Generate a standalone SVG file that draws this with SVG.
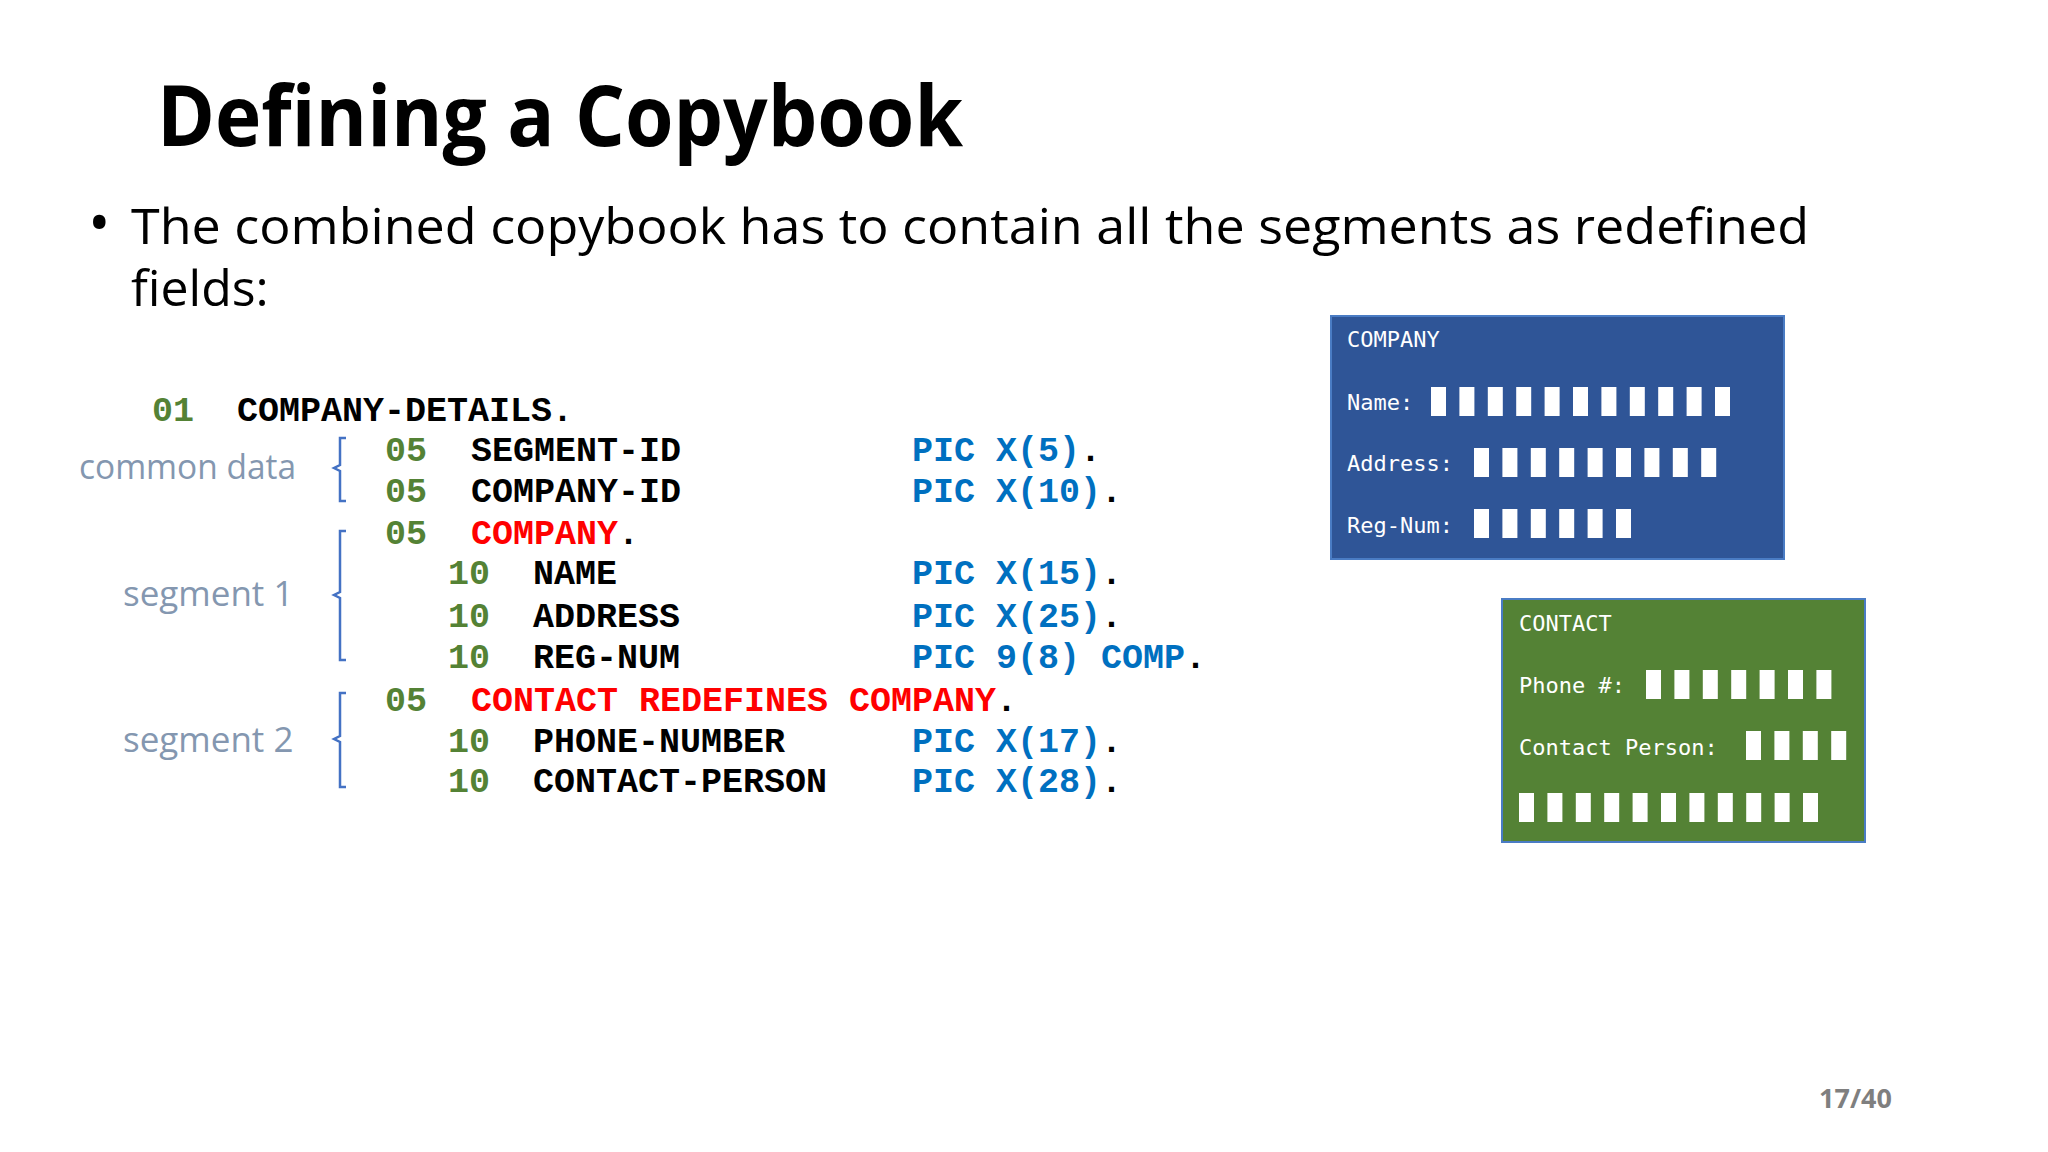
<svg xmlns="http://www.w3.org/2000/svg" width="2048" height="1152" viewBox="0 0 2048 1152">
<style>
.c{font-family:"Liberation Mono","DejaVu Sans Mono",monospace;font-size:35px;font-weight:bold}
.g{fill:#548235}.k{fill:#000}.b{fill:#0070c0}.r{fill:#ff0000}
.lab{font-family:"Open Sans","Liberation Sans",sans-serif;font-size:35px;fill:#8497b0}
.br{fill:none;stroke:#4472c4;stroke-width:2.5}
.bx{font-family:"DejaVu Sans Mono","Liberation Mono",monospace;font-size:22px;fill:#fff}
.blk{fill:#fff}
</style>
<rect width="2048" height="1152" fill="#fff"/>
<text x="157" y="146" font-family="Open Sans, Liberation Sans, sans-serif" font-weight="bold" font-size="84" textLength="806" lengthAdjust="spacingAndGlyphs">Defining a Copybook</text>
<g font-family="Open Sans, Liberation Sans, sans-serif" font-size="50" fill="#000">
<text x="88" y="244" font-size="60">•</text>
<text x="131" y="244" textLength="1678" lengthAdjust="spacingAndGlyphs">The combined copybook has to contain all the segments as redefined</text>
<text x="131" y="306">fields:</text>
</g>
<g id="code" class="c">
<text x="152" y="421" class="g">01</text><text x="237" y="421" class="k">COMPANY-DETAILS.</text>
<text x="385" y="461" class="g">05</text><text x="471" y="461" class="k">SEGMENT-ID</text><text x="912" y="461" class="b">PIC X(5)<tspan class="k">.</tspan></text>
<text x="385" y="502" class="g">05</text><text x="471" y="502" class="k">COMPANY-ID</text><text x="912" y="502" class="b">PIC X(10)<tspan class="k">.</tspan></text>
<text x="385" y="544" class="g">05</text><text x="471" y="544" class="r">COMPANY<tspan class="k">.</tspan></text>
<text x="448" y="584" class="g">10</text><text x="533" y="584" class="k">NAME</text><text x="912" y="584" class="b">PIC X(15)<tspan class="k">.</tspan></text>
<text x="448" y="627" class="g">10</text><text x="533" y="627" class="k">ADDRESS</text><text x="912" y="627" class="b">PIC X(25)<tspan class="k">.</tspan></text>
<text x="448" y="668" class="g">10</text><text x="533" y="668" class="k">REG-NUM</text><text x="912" y="668" class="b">PIC 9(8) COMP<tspan class="k">.</tspan></text>
<text x="385" y="711" class="g">05</text><text x="471" y="711" class="r">CONTACT REDEFINES COMPANY<tspan class="k">.</tspan></text>
<text x="448" y="752" class="g">10</text><text x="533" y="752" class="k">PHONE-NUMBER</text><text x="912" y="752" class="b">PIC X(17)<tspan class="k">.</tspan></text>
<text x="448" y="792" class="g">10</text><text x="533" y="792" class="k">CONTACT-PERSON</text><text x="912" y="792" class="b">PIC X(28)<tspan class="k">.</tspan></text>
</g>
<g id="labels">
<text x="79" y="479" class="lab" textLength="217" lengthAdjust="spacingAndGlyphs">common data</text>
<path class="br" d="M346,438 H340 V465 L334,468 L340,471 V501 H346"/>
<text x="123" y="606" class="lab">segment 1</text>
<path class="br" d="M346,531 H340 V592 L334,595 L340,598 V660 H346"/>
<text x="123" y="752" class="lab">segment 2</text>
<path class="br" d="M346,693 H340 V736 L334,739 L340,742 V787 H346"/>
</g>
<g id="company">
<rect x="1331" y="316" width="453" height="243" fill="#2f5597" stroke="#4a7cc4" stroke-width="2"/>
<text x="1347" y="347" class="bx">COMPANY</text>
<text x="1347" y="410" class="bx">Name:</text>
<text x="1347" y="471" class="bx">Address:</text>
<text x="1347" y="533" class="bx">Reg-Num:</text>
<g class="blk">
<rect x="1431" y="387" width="15" height="29"/><rect x="1459.4" y="387" width="15" height="29"/><rect x="1487.8" y="387" width="15" height="29"/><rect x="1516.2" y="387" width="15" height="29"/><rect x="1544.6" y="387" width="15" height="29"/><rect x="1573" y="387" width="15" height="29"/><rect x="1601.4" y="387" width="15" height="29"/><rect x="1629.8" y="387" width="15" height="29"/><rect x="1658.2" y="387" width="15" height="29"/><rect x="1686.6" y="387" width="15" height="29"/><rect x="1715" y="387" width="15" height="29"/>
<rect x="1474" y="448" width="15" height="29"/><rect x="1502.4" y="448" width="15" height="29"/><rect x="1530.8" y="448" width="15" height="29"/><rect x="1559.2" y="448" width="15" height="29"/><rect x="1587.6" y="448" width="15" height="29"/><rect x="1616" y="448" width="15" height="29"/><rect x="1644.4" y="448" width="15" height="29"/><rect x="1672.8" y="448" width="15" height="29"/><rect x="1701.2" y="448" width="15" height="29"/>
<rect x="1474" y="509" width="15" height="29"/><rect x="1502.4" y="509" width="15" height="29"/><rect x="1530.8" y="509" width="15" height="29"/><rect x="1559.2" y="509" width="15" height="29"/><rect x="1587.6" y="509" width="15" height="29"/><rect x="1616" y="509" width="15" height="29"/>
</g>
</g>
<g id="contact">
<rect x="1502" y="599" width="363" height="243" fill="#548235" stroke="#4a7cc4" stroke-width="2"/>
<text x="1519" y="631" class="bx">CONTACT</text>
<text x="1519" y="693" class="bx">Phone #:</text>
<text x="1519" y="755" class="bx">Contact Person:</text>
<g class="blk">
<rect x="1646" y="670" width="15" height="29"/><rect x="1674.4" y="670" width="15" height="29"/><rect x="1702.8" y="670" width="15" height="29"/><rect x="1731.2" y="670" width="15" height="29"/><rect x="1759.6" y="670" width="15" height="29"/><rect x="1788" y="670" width="15" height="29"/><rect x="1816.4" y="670" width="15" height="29"/>
<rect x="1746" y="731" width="15" height="29"/><rect x="1774.4" y="731" width="15" height="29"/><rect x="1802.8" y="731" width="15" height="29"/><rect x="1831.2" y="731" width="15" height="29"/>
<rect x="1519" y="793" width="15" height="29"/><rect x="1547.4" y="793" width="15" height="29"/><rect x="1575.8" y="793" width="15" height="29"/><rect x="1604.2" y="793" width="15" height="29"/><rect x="1632.6" y="793" width="15" height="29"/><rect x="1661" y="793" width="15" height="29"/><rect x="1689.4" y="793" width="15" height="29"/><rect x="1717.8" y="793" width="15" height="29"/><rect x="1746.2" y="793" width="15" height="29"/><rect x="1774.6" y="793" width="15" height="29"/><rect x="1803" y="793" width="15" height="29"/>
</g>
</g>
<text x="1819" y="1108" font-family="Open Sans, Liberation Sans, sans-serif" font-weight="bold" font-size="27" fill="#7f7f7f">17/40</text>
</svg>
